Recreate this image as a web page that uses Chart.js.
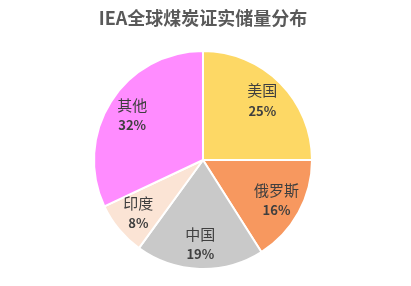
<!DOCTYPE html>
<html>
<head>
<meta charset="utf-8">
<script src="https://cdn.jsdelivr.net/npm/chart.js@4/dist/chart.umd.min.js"></script>
<style>
html,body{margin:0;padding:0;background:#fff;}
#wrap{width:411px;height:286px;position:relative;}
</style>
</head>
<body>
<div id="wrap"><canvas id="c" width="411" height="286"></canvas></div>
<script>
const titleText = "IEA全球煤炭证实储量分布";
const categories = ["美国", "俄罗斯", "中国", "印度", "其他"];
const shares = [25, 16, 19, 8, 32];
const sliceColors = ["#FDD865", "#F7985F", "#C9C9C9", "#FBE4D5", "#FF8CFF"];

const FONT = '"Noto Sans CJK SC", "Noto Sans", sans-serif';

const labelPlugin = {
  id: 'sliceLabels',
  afterDatasetsDraw(chart) {
    const ctx = chart.ctx;
    const meta = chart.getDatasetMeta(0);
    ctx.save();
    ctx.textAlign = 'center';
    ctx.textBaseline = 'middle';
    meta.data.forEach((arc, i) => {
      const mid = (arc.startAngle + arc.endAngle) / 2;
      const r = arc.outerRadius * 0.77;
      const x = arc.x + Math.cos(mid) * r;
      const y = arc.y + Math.sin(mid) * r;
      ctx.fillStyle = '#3F3F3F';
      ctx.font = '15px ' + FONT;
      ctx.fillText(categories[i], x, y - 10);
      ctx.font = 'bold 13px ' + FONT;
      ctx.fillText(shares[i] + '%', x, y + 10);
    });
    ctx.restore();
  }
};

new Chart(document.getElementById('c'), {
  type: 'pie',
  data: {
    labels: categories,
    datasets: [{
      data: shares,
      backgroundColor: sliceColors,
      borderColor: '#ffffff',
      borderWidth: 2
    }]
  },
  options: {
    responsive: false,
    animation: false,
    layout: { padding: { top: 0, bottom: 16, left: 93, right: 98 } },
    plugins: {
      legend: { display: false },
      tooltip: { enabled: false },
      title: {
        display: true,
        text: titleText,
        color: '#595959',
        font: { family: FONT, size: 18, weight: 'bold' },
        padding: { top: 7, bottom: 21.4 }
      }
    }
  },
  plugins: [labelPlugin]
});
</script>
</body>
</html>
